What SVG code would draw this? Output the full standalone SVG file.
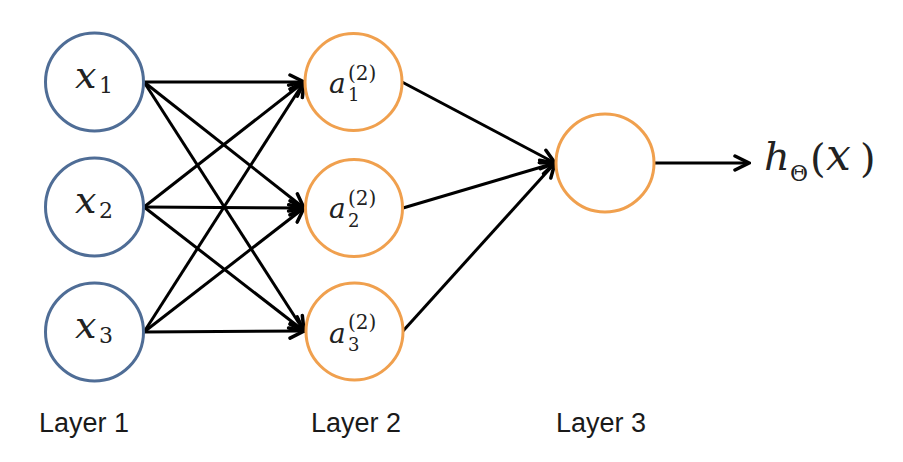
<svg xmlns="http://www.w3.org/2000/svg" width="903" height="462" viewBox="0 0 903 462">
  <style>
    .in { fill: #ffffff; stroke: #4f6d96; stroke-width: 3; }
    .hid { fill: #ffffff; stroke: #f0a04e; stroke-width: 3; }
    .edge { stroke: #000000; stroke-width: 3; fill: none; marker-end: url(#arrow); }
    .m { font-family: "DejaVu Serif", "Liberation Serif", serif; font-style: italic; fill: #222222; }
    .r { font-family: "DejaVu Serif", "Liberation Serif", serif; font-style: normal; fill: #222222; }
    .lbl { font-family: "Liberation Sans", Arial, sans-serif; font-size: 27px; fill: #1a1a1a; }
  </style>
  <defs>
    <marker id="arrow" viewBox="0 0 18 18" refX="16" refY="9" markerWidth="18" markerHeight="18" markerUnits="userSpaceOnUse" orient="auto">
      <path d="M2,2 L16,9 L2,16" fill="none" stroke="#000000" stroke-width="3.5" stroke-linejoin="miter" stroke-linecap="round"/>
    </marker>
  </defs>
  <rect width="903" height="462" fill="#ffffff"/>

  <g id="connectors">
    <line class="edge" x1="144" y1="82" x2="304" y2="82"/>
    <line class="edge" x1="144" y1="82" x2="304" y2="208"/>
    <line class="edge" x1="144" y1="82" x2="304" y2="331"/>
    <line class="edge" x1="144" y1="207" x2="304" y2="82"/>
    <line class="edge" x1="144" y1="207" x2="304" y2="208"/>
    <line class="edge" x1="144" y1="207" x2="304" y2="331"/>
    <line class="edge" x1="144" y1="332" x2="304" y2="82"/>
    <line class="edge" x1="144" y1="332" x2="304" y2="208"/>
    <line class="edge" x1="144" y1="332" x2="304" y2="331"/>
    <line class="edge" x1="402" y1="82" x2="555" y2="163"/>
    <line class="edge" x1="403" y1="208" x2="555" y2="163"/>
    <line class="edge" x1="403" y1="331" x2="555" y2="163"/>
    <line class="edge" x1="654" y1="163" x2="749" y2="163"/>
  </g>

  <g id="x1">
    <circle class="in" cx="94.5" cy="82" r="49"/>
    <text class="m" x="75" y="88" font-size="38">x</text>
    <text class="r" x="99" y="93" font-size="22">1</text>
  </g>
  <g id="x2">
    <circle class="in" cx="94.5" cy="207" r="49"/>
    <text class="m" x="75" y="213" font-size="38">x</text>
    <text class="r" x="99" y="218" font-size="22">2</text>
  </g>
  <g id="x3">
    <circle class="in" cx="94.5" cy="332" r="49"/>
    <text class="m" x="75" y="338" font-size="38">x</text>
    <text class="r" x="99" y="343" font-size="22">3</text>
  </g>

  <g id="a1">
    <circle class="hid" cx="353.5" cy="82" r="48.5"/>
    <text class="m" x="329" y="93" font-size="28">a</text>
    <text class="r" x="348" y="101" font-size="18">1</text>
    <text class="r" x="348" y="80" font-size="20">(2)</text>
  </g>
  <g id="a2">
    <circle class="hid" cx="354" cy="208" r="48.5"/>
    <text class="m" x="329" y="218" font-size="28">a</text>
    <text class="r" x="348" y="227" font-size="18">2</text>
    <text class="r" x="348" y="205" font-size="20">(2)</text>
  </g>
  <g id="a3">
    <circle class="hid" cx="354.5" cy="331.5" r="48.5"/>
    <text class="m" x="329" y="343" font-size="28">a</text>
    <text class="r" x="348" y="351" font-size="18">3</text>
    <text class="r" x="348" y="329" font-size="20">(2)</text>
  </g>

  <g id="out">
    <circle class="hid" cx="605" cy="163" r="49"/>
  </g>

  <g id="output-label">
    <text class="m" x="764" y="170" font-size="40">h</text>
    <text class="r" x="790" y="181" font-size="22">Θ</text>
    <text class="r" x="810" y="172" font-size="40">(</text>
    <text class="m" x="826" y="170" font-size="44">x</text>
    <text class="r" x="860" y="172" font-size="40">)</text>
  </g>

  <g id="layer-labels">
    <text class="lbl" x="39" y="432">Layer 1</text>
    <text class="lbl" x="311" y="432">Layer 2</text>
    <text class="lbl" x="556" y="432">Layer 3</text>
  </g>
</svg>
